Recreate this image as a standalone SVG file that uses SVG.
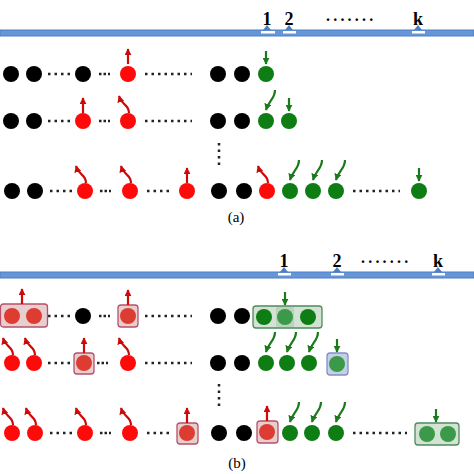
<svg xmlns="http://www.w3.org/2000/svg" xmlns:xlink="http://www.w3.org/1999/xlink" width="474" height="474" viewBox="0 0 474 474">
<style>
.bk{fill:#000}
.rd{fill:#ff0a0a}
.rb{fill:#dc3c32}
.gn{fill:#0e7d14}
.gl{fill:#3a9a4a}
.dots{stroke:#222;stroke-width:2.5;stroke-dasharray:2.5 4}
.dots2{stroke:#222;stroke-width:2.5;stroke-dasharray:2.5 2}
.ra{stroke:#cc0a0a;stroke-width:2.2;fill:none;marker-end:url(#mr)}
.ga{stroke:#1b7a1b;stroke-width:2.2;fill:none;marker-end:url(#mg)}
.bar{fill:#6695d8;stroke:#4d7fc4;stroke-width:1}
.tick{fill:#fff}
.tri{fill:#4f7fc0}
.lbl{font-family:"Liberation Serif",serif;font-weight:bold;font-size:18px;text-anchor:middle;fill:#000}
.dl{font-family:"Liberation Serif",serif;font-weight:bold;font-size:16px;letter-spacing:3.2px;fill:#000}
.cap{font-family:"Liberation Serif",serif;font-size:15px;text-anchor:middle;fill:#000}
.rbox{fill:#e8cfcf;stroke:#b8506a;stroke-width:1.3}
.gbox{fill:#d3e3d3;stroke:#4d8a5d;stroke-width:1.3}
.bbox{fill:#c5d0e5;stroke:#8090c8;stroke-width:1.3}
</style>
<defs>
<marker id="mr" viewBox="0 0 10 10" refX="9" refY="5" markerWidth="7" markerHeight="7" markerUnits="userSpaceOnUse" orient="auto"><path d="M0,0 L10,5 L0,10 z" fill="#cc0a0a"/></marker>
<marker id="mg" viewBox="0 0 10 10" refX="9" refY="5" markerWidth="7" markerHeight="7" markerUnits="userSpaceOnUse" orient="auto"><path d="M0,0 L10,5 L0,10 z" fill="#1b7a1b"/></marker>
<path id="cr" class="ra" d="M1,-8 C1,-17 -6,-15 -9,-25"/>
<path id="cg" class="ga" d="M9,-31 C9,-22 3,-21 0,-11"/>
<path id="sr" class="ra" d="M0,-8 L0,-23"/>
<path id="sg" class="ga" d="M0,-23 L0,-10"/>
</defs>

<!-- panel (a) header -->
<g id="a-bar">
<rect class="bar" x="0" y="30" width="474" height="6"/>
<rect class="tick" x="261" y="31" width="14" height="2.5"/>
<rect class="tick" x="283" y="31" width="13" height="2.5"/>
<rect class="tick" x="412" y="31" width="13" height="2.5"/>
<path class="tri" d="M263,30 L267,25 L271,30 z M285,30 L289,25 L293,30 z M414,30 L418,25 L422,30 z"/>
<text class="lbl" x="267" y="25">1</text>
<text class="lbl" x="289" y="25">2</text>
<text class="dl" x="326" y="21">.......</text>
<text class="lbl" x="418" y="25">k</text>
</g>

<!-- panel (a) dots -->
<g id="a-dots">
<line class="dots" x1="48" y1="74" x2="74" y2="74"/>
<line class="dots2" x1="99" y1="74" x2="110" y2="74"/>
<line class="dots" x1="145" y1="74" x2="192" y2="74"/>
<line class="dots" x1="48" y1="121" x2="74" y2="121"/>
<line class="dots2" x1="99" y1="121" x2="110" y2="121"/>
<line class="dots" x1="145" y1="121" x2="192" y2="121"/>
<line class="dots" x1="219" y1="143" x2="219" y2="167" />
<line class="dots" x1="50" y1="191" x2="75" y2="191"/>
<line class="dots2" x1="100" y1="191" x2="111" y2="191"/>
<line class="dots" x1="147" y1="191" x2="173" y2="191"/>
<line class="dots" x1="353" y1="191" x2="400" y2="191"/>
</g>

<!-- panel (a) nodes -->
<g id="a1-1"><circle class="bk" cx="11" cy="74" r="8"/></g>
<g id="a1-2"><circle class="bk" cx="34" cy="74" r="8"/></g>
<g id="a1-3"><circle class="bk" cx="83" cy="74" r="8"/></g>
<g id="a1-4"><circle class="rd" cx="128" cy="74" r="8"/></g>
<g id="a1-5"><circle class="bk" cx="218" cy="74" r="8"/></g>
<g id="a1-6"><circle class="bk" cx="242" cy="74" r="8"/></g>
<g id="a1-7"><circle class="gn" cx="266" cy="74" r="8"/></g>

<g id="a2-1"><circle class="bk" cx="11" cy="121" r="8"/></g>
<g id="a2-2"><circle class="bk" cx="34" cy="121" r="8"/></g>
<g id="a2-3"><circle class="rd" cx="83" cy="121" r="8"/></g>
<g id="a2-4"><circle class="rd" cx="128" cy="121" r="8"/></g>
<g id="a2-5"><circle class="bk" cx="218" cy="121" r="8"/></g>
<g id="a2-6"><circle class="bk" cx="242" cy="121" r="8"/></g>
<g id="a2-7"><circle class="gn" cx="266" cy="121" r="8"/></g>
<g id="a2-8"><circle class="gn" cx="289" cy="121" r="8"/></g>

<g id="a3-1"><circle class="bk" cx="12" cy="191" r="8"/></g>
<g id="a3-2"><circle class="bk" cx="35" cy="191" r="8"/></g>
<g id="a3-3"><circle class="rd" cx="85" cy="191" r="8"/></g>
<g id="a3-4"><circle class="rd" cx="130" cy="191" r="8"/></g>
<g id="a3-5"><circle class="rd" cx="187" cy="191" r="8"/></g>
<g id="a3-6"><circle class="bk" cx="219" cy="191" r="8"/></g>
<g id="a3-7"><circle class="bk" cx="244" cy="191" r="8"/></g>
<g id="a3-8"><circle class="rd" cx="267" cy="191" r="8"/></g>
<g id="a3-9"><circle class="gn" cx="290" cy="191" r="8"/></g>
<g id="a3-10"><circle class="gn" cx="313" cy="191" r="8"/></g>
<g id="a3-11"><circle class="gn" cx="336" cy="191" r="8"/></g>
<g id="a3-12"><circle class="gn" cx="419" cy="191" r="8"/></g>

<text class="cap" x="236" y="222">(a)</text>

<!-- panel (b) header -->
<g id="b-bar">
<rect class="bar" x="0" y="272" width="474" height="6"/>
<rect class="tick" x="278" y="273" width="13" height="2.5"/>
<rect class="tick" x="331" y="273" width="13" height="2.5"/>
<rect class="tick" x="432" y="273" width="13" height="2.5"/>
<path class="tri" d="M280,272 L284,267 L288,272 z M333,272 L337,267 L341,272 z M434,272 L438,267 L442,272 z"/>
<text class="lbl" x="284" y="267">1</text>
<text class="lbl" x="337" y="267">2</text>
<text class="dl" x="361" y="263">.......</text>
<text class="lbl" x="438" y="267">k</text>
</g>

<!-- panel (b) dots -->
<g id="b-dots">
<line class="dots" x1="48" y1="316" x2="74" y2="316"/>
<line class="dots2" x1="99" y1="316" x2="110" y2="316"/>
<line class="dots" x1="145" y1="316" x2="192" y2="316"/>
<line class="dots" x1="48" y1="363" x2="74" y2="363"/>
<line class="dots2" x1="97" y1="363" x2="108" y2="363"/>
<line class="dots" x1="145" y1="363" x2="192" y2="363"/>
<line class="dots" x1="219" y1="384" x2="219" y2="408"/>
<line class="dots" x1="50" y1="433" x2="75" y2="433"/>
<line class="dots2" x1="100" y1="433" x2="111" y2="433"/>
<line class="dots" x1="147" y1="433" x2="173" y2="433"/>
<line class="dots" x1="353" y1="433" x2="407" y2="433"/>
</g>

<!-- panel (b) nodes -->
<g id="b1-1"><rect class="rbox" x="0.5" y="304" width="47" height="23" rx="3"/><circle class="rb" cx="12" cy="316" r="8"/><circle class="rb" cx="34" cy="316" r="8"/></g>
<g id="b1-3"><circle class="bk" cx="83" cy="316" r="8"/></g>
<g id="b1-4"><rect class="rbox" x="118" y="305" width="20" height="22" rx="3"/><circle class="rb" cx="128" cy="316" r="8"/></g>
<g id="b1-5"><circle class="bk" cx="218" cy="316" r="8"/></g>
<g id="b1-6"><circle class="bk" cx="242" cy="316" r="8"/></g>
<g id="b1-7"><rect class="gbox" x="253" y="306" width="69" height="22" rx="3"/><rect x="276" y="307" width="18" height="20" fill="#bcd2bf"/><circle class="gn" cx="264" cy="317" r="8"/><circle class="gl" cx="285" cy="317" r="8"/><circle class="gn" cx="308" cy="317" r="8"/></g>

<g id="b2-1"><circle class="rd" cx="12" cy="363" r="8"/></g>
<g id="b2-2"><circle class="rd" cx="34" cy="363" r="8"/></g>
<g id="b2-3"><rect class="rbox" x="74" y="353" width="20" height="21" rx="3"/><circle class="rb" cx="84" cy="363" r="8"/></g>
<g id="b2-4"><circle class="rd" cx="128" cy="363" r="8"/></g>
<g id="b2-5"><circle class="bk" cx="218" cy="363" r="8"/></g>
<g id="b2-6"><circle class="bk" cx="242" cy="363" r="8"/></g>
<g id="b2-7"><circle class="gn" cx="266" cy="363" r="8"/></g>
<g id="b2-8"><circle class="gn" cx="287" cy="363" r="8"/></g>
<g id="b2-9"><circle class="gn" cx="309" cy="363" r="8"/></g>
<g id="b2-10"><rect class="bbox" x="327" y="353" width="21" height="22" rx="3"/><circle class="gl" cx="337" cy="364" r="8"/></g>

<g id="b3-1"><circle class="rd" cx="12" cy="433" r="8"/></g>
<g id="b3-2"><circle class="rd" cx="35" cy="433" r="8"/></g>
<g id="b3-3"><circle class="rd" cx="85" cy="433" r="8"/></g>
<g id="b3-4"><circle class="rd" cx="130" cy="433" r="8"/></g>
<g id="b3-5"><rect class="rbox" x="177" y="423" width="21" height="21" rx="3"/><circle class="rb" cx="187" cy="433" r="8"/></g>
<g id="b3-6"><circle class="bk" cx="219" cy="433" r="8"/></g>
<g id="b3-7"><circle class="bk" cx="244" cy="433" r="8"/></g>
<g id="b3-8"><rect class="rbox" x="257" y="421" width="21" height="22" rx="3"/><circle class="rb" cx="267" cy="432" r="8"/></g>
<g id="b3-9"><circle class="gn" cx="290" cy="433" r="8"/></g>
<g id="b3-10"><circle class="gn" cx="312" cy="433" r="8"/></g>
<g id="b3-11"><circle class="gn" cx="336" cy="433" r="8"/></g>
<g id="b3-12"><rect class="gbox" x="415" y="423" width="44" height="22" rx="3"/><circle class="gl" cx="427" cy="434" r="8"/><circle class="gl" cx="448" cy="434" r="8"/></g>

<text class="cap" x="237" y="468">(b)</text>

<!-- connectors -->
<g id="connectors">
<use xlink:href="#sr" x="128" y="72"/>
<use xlink:href="#sg" x="266" y="74"/>
<use xlink:href="#sr" x="83" y="121"/>
<use xlink:href="#cr" x="128" y="121"/>
<use xlink:href="#cg" x="266" y="121"/>
<use xlink:href="#sg" x="289" y="121"/>
<use xlink:href="#cr" x="85" y="191"/>
<use xlink:href="#cr" x="130" y="191"/>
<use xlink:href="#sr" x="187" y="191"/>
<use xlink:href="#cr" x="267" y="191"/>
<use xlink:href="#cg" x="290" y="191"/>
<use xlink:href="#cg" x="313" y="191"/>
<use xlink:href="#cg" x="336" y="191"/>
<use xlink:href="#sg" x="419" y="191"/>

<use xlink:href="#sr" x="22" y="312"/>
<use xlink:href="#sr" x="128" y="313"/>
<use xlink:href="#sg" x="285" y="315"/>
<use xlink:href="#cr" x="12" y="363"/>
<use xlink:href="#cr" x="34" y="363"/>
<use xlink:href="#sr" x="84" y="361"/>
<use xlink:href="#cr" x="128" y="363"/>
<use xlink:href="#cg" x="266" y="363"/>
<use xlink:href="#cg" x="287" y="363"/>
<use xlink:href="#cg" x="309" y="363"/>
<use xlink:href="#sg" x="337" y="362"/>
<use xlink:href="#cr" x="12" y="433"/>
<use xlink:href="#cr" x="35" y="433"/>
<use xlink:href="#cr" x="85" y="433"/>
<use xlink:href="#cr" x="130" y="433"/>
<use xlink:href="#sr" x="187" y="431"/>
<use xlink:href="#sr" x="267" y="429"/>
<use xlink:href="#cg" x="290" y="433"/>
<use xlink:href="#cg" x="312" y="433"/>
<use xlink:href="#cg" x="336" y="433"/>
<use xlink:href="#sg" x="436" y="432"/>
</g>
</svg>
